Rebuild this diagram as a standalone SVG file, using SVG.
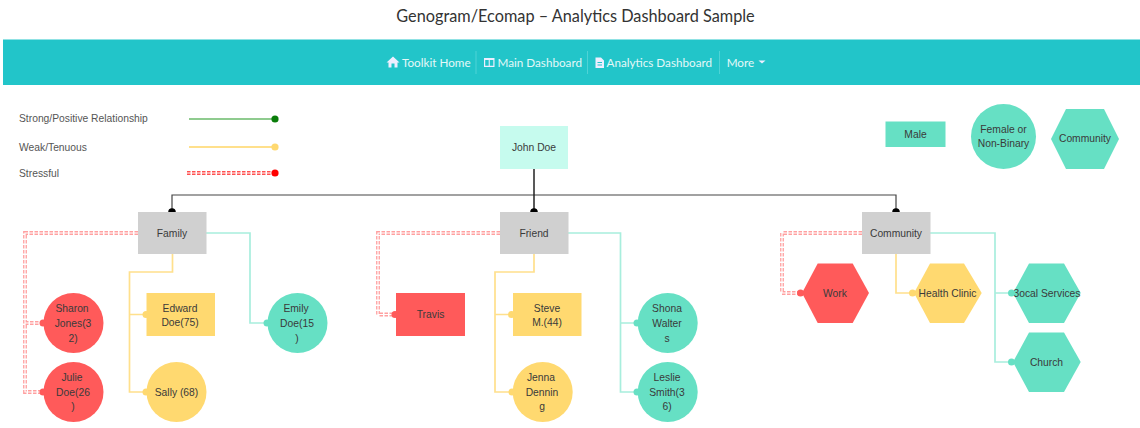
<svg xmlns="http://www.w3.org/2000/svg" width="1140" height="428" viewBox="0 0 1140 428">
<style>
text{font-family:"Liberation Sans",Arial,sans-serif;font-size:10.3px;fill:#3a3a3a;text-anchor:middle}
.ui{font-family:Lato,"Noto Sans",sans-serif;font-size:11.7px;fill:#e4f8f8;text-anchor:start}
.title{font-family:Lato,"Noto Sans",sans-serif;font-size:16.3px;fill:#333}
.lg{text-anchor:start;fill:#555}
.m{fill:#66e0c4}.y{fill:#ffd970}.r{fill:#ff5a5a}.g{fill:#d0d0d0}
.ln{fill:none;stroke-width:1.7}
.lm{stroke:#a8eedd}.ly{stroke:#ffe08c}
.blk{fill:none;stroke:#444;stroke-width:1.2}
.rb{fill:none;stroke:#ffa0a0;stroke-width:3.8;stroke-dasharray:3.5 1.5}
.rw{fill:none;stroke:#fff;stroke-width:1.2}
.sep{stroke:#4fd3d6;stroke-width:1}
</style>
<rect width="1140" height="428" fill="#fff"/>
<text class="title" x="575.5" y="21.500">Genogram/Ecomap – Analytics Dashboard Sample</text>
<g id="navbar">
<rect x="3" y="39.5" width="1137" height="45.5" fill="#22c5c9"/>
<path d="M386.500 62.500L393 56.500L399.500 62.500L397.500 62.500L397.500 67.500H394.500V63.500H391.500V67.500H388.500V62.500Z" fill="#eef"/>
<text class="ui" x="402" y="66.500">Toolkit Home</text>
<line class="sep" x1="476" y1="51" x2="476" y2="74"/>
<path d="M484 58h10.500v9h-10.500zM485.200 60v5.800h3.500v-5.800zM489.800 60v5.800h3.500v-5.800z" fill="#eef" fill-rule="evenodd"/>
<text class="ui" x="497.500" y="66.500">Main Dashboard</text>
<line class="sep" x1="587.500" y1="51" x2="587.500" y2="74"/>
<path d="M595.500 57.500h5.500l3 3v7.500h-8.500zM597.500 62v1h4.500v-1zM597.500 64.500v1h4.500v-1z" fill="#eef" fill-rule="evenodd"/>
<text class="ui" x="606.500" y="66.500">Analytics Dashboard</text>
<line class="sep" x1="719.500" y1="51" x2="719.500" y2="74"/>
<text class="ui" x="726.700" y="66.500">More</text>
<path d="M758.500 60.500h7l-3.500 3z" fill="#eef"/>
</g>
<g id="legend">
<text class="lg" x="19" y="122">Strong/Positive Relationship</text>
<text class="lg" x="19" y="150.500">Weak/Tenuous</text>
<text class="lg" x="19" y="176.500">Stressful</text>
<line x1="189" y1="119" x2="275" y2="119" stroke="#8fcb8f" stroke-width="1.800"/>
<circle cx="275" cy="119" r="3.600" fill="#0a7d0a"/>
<line class="ly" x1="189" y1="147" x2="275" y2="147" stroke-width="1.800"/>
<circle cx="275" cy="147" r="3.600" fill="#ffd970"/>
<path class="rb" d="M187 173H272" style="stroke:#ff5050"/>
<path class="rw" d="M187 173H272"/>
<circle cx="275" cy="173" r="3.600" fill="#f00"/>
</g>
<g id="connectors">
<path class="blk" d="M534 195H172V212M534 195H896V212"/>
<path d="M534 169V212" fill="none" stroke="#222" stroke-width="1.500"/>
<path class="rb" d="M138 233H25V392H43M25 323H43"/><path class="rw" d="M138 233H25V392H43M25 323H43"/>
<path class="ln ly" d="M172.500 254V272H129.500V392H146M129.500 314.500H146"/>
<path class="ln lm" d="M206 233H250V323H267"/>
<path class="rb" d="M500 233H378V314.500H396"/><path class="rw" d="M500 233H378V314.500H396"/>
<path class="ln ly" d="M534 254V272H495V392H513M495 314.500H513"/>
<path class="ln lm" d="M568 233H620.500V392H637M620.500 323H637"/>
<path class="rb" d="M862 233H782V293H802"/><path class="rw" d="M862 233H782V293H802"/>
<path class="ln ly" d="M896 254V293H914"/>
<path class="ln lm" d="M930 233H995V362H1013M995 293H1013"/>
<g fill="#000"><circle cx="172" cy="212" r="3.800"/><circle cx="534" cy="212" r="3.800"/><circle cx="896" cy="212" r="3.800"/></g>
</g>
<g id="john-doe"><rect x="500" y="126" width="68" height="43" fill="#c6fbee"/><text x="534" y="150.500">John Doe</text></g>
<g id="key-male"><rect class="m" x="885.500" y="121.500" width="60" height="25.500"/><text x="915.500" y="137.500">Male</text></g>
<g id="key-female"><circle class="m" cx="1003.500" cy="136.500" r="32.500"/><text x="1003.500" y="132.500">Female or</text><text x="1003.500" y="147">Non-Binary</text></g>
<g id="key-community"><polygon class="m" points="1051,139 1066,109 1104,109 1119,139 1104,169 1066,169"/><text x="1085" y="142">Community</text></g>
<g id="family"><rect class="g" x="138" y="212" width="68.500" height="42"/><text x="172" y="236.500">Family</text></g>
<g id="friend"><rect class="g" x="500" y="212" width="68.500" height="42"/><text x="534" y="236.500">Friend</text></g>
<g id="community"><rect class="g" x="862" y="212" width="68.500" height="42"/><text x="896" y="236.500">Community</text></g>
<g id="sharon"><circle class="r" cx="73.500" cy="323" r="30"/><circle class="r" cx="43" cy="323" r="3.500"/><text x="72" y="312">Sharon</text><text x="73" y="327">Jones(3</text><text x="73" y="342">2)</text></g>
<g id="julie"><circle class="r" cx="73.500" cy="392" r="30"/><circle class="r" cx="43" cy="392" r="3.500"/><text x="72" y="381">Julie</text><text x="73" y="395.500">Doe(26</text><text x="73" y="410">)</text></g>
<g id="edward"><rect class="y" x="146.500" y="293" width="68.500" height="43"/><circle class="y" cx="146" cy="314.500" r="3.500"/><text x="180" y="311.500">Edward</text><text x="180" y="326">Doe(75)</text></g>
<g id="sally"><circle class="y" cx="176.500" cy="392" r="30"/><circle class="y" cx="146" cy="392" r="3.500"/><text x="176.500" y="395.500">Sally (68)</text></g>
<g id="emily"><circle class="m" cx="297.500" cy="323" r="30"/><circle class="m" cx="267" cy="323" r="3.500"/><text x="296" y="312">Emily</text><text x="297" y="327">Doe(15</text><text x="297" y="342">)</text></g>
<g id="travis"><rect class="r" x="396" y="293" width="69" height="43"/><circle class="r" cx="395" cy="314.500" r="3.500"/><text x="430.500" y="318">Travis</text></g>
<g id="steve"><rect class="y" x="513" y="293" width="68.500" height="43"/><circle class="y" cx="511.500" cy="314.500" r="3.500"/><text x="547" y="311.500">Steve</text><text x="547" y="326">M.(44)</text></g>
<g id="jenna"><circle class="y" cx="542.700" cy="392" r="30"/><circle class="y" cx="512" cy="392" r="3.500"/><text x="541" y="381">Jenna</text><text x="542" y="395.500">Dennin</text><text x="542" y="410">g</text></g>
<g id="shona"><circle class="m" cx="667.700" cy="323" r="30"/><circle class="m" cx="637" cy="323" r="3.500"/><text x="667" y="312">Shona</text><text x="667" y="327">Walter</text><text x="667" y="342">s</text></g>
<g id="leslie"><circle class="m" cx="667.700" cy="392" r="30"/><circle class="m" cx="637" cy="392" r="3.500"/><text x="667" y="381">Leslie</text><text x="667" y="395.500">Smith(3</text><text x="667" y="410">6)</text></g>
<g id="work"><polygon class="r" points="802,293 817.700,263.500 852.700,263.500 869,293 852.700,323 817.700,323"/><circle class="r" cx="800.500" cy="293" r="3.500"/><text x="835" y="296.500">Work</text></g>
<g id="health-clinic"><polygon class="y" points="914,293 930,263.500 964,263.500 981.700,293 964,323 930,323"/><circle class="y" cx="912.500" cy="293" r="3.500"/><text x="947.500" y="296.500">Health Clinic</text></g>
<g id="local-services"><polygon class="m" points="1013,293 1029,263.500 1064,263.500 1080.700,293 1064,323 1029,323"/><text x="1047" y="296.500">3ocal Services</text><circle class="m" cx="1011.500" cy="293" r="3.500"/></g>
<g id="church"><polygon class="m" points="1013,362 1029,332.500 1064,332.500 1080.700,362 1064,392 1029,392"/><circle class="m" cx="1011.500" cy="362" r="3.500"/><text x="1046.500" y="365.500">Church</text></g>
</svg>
